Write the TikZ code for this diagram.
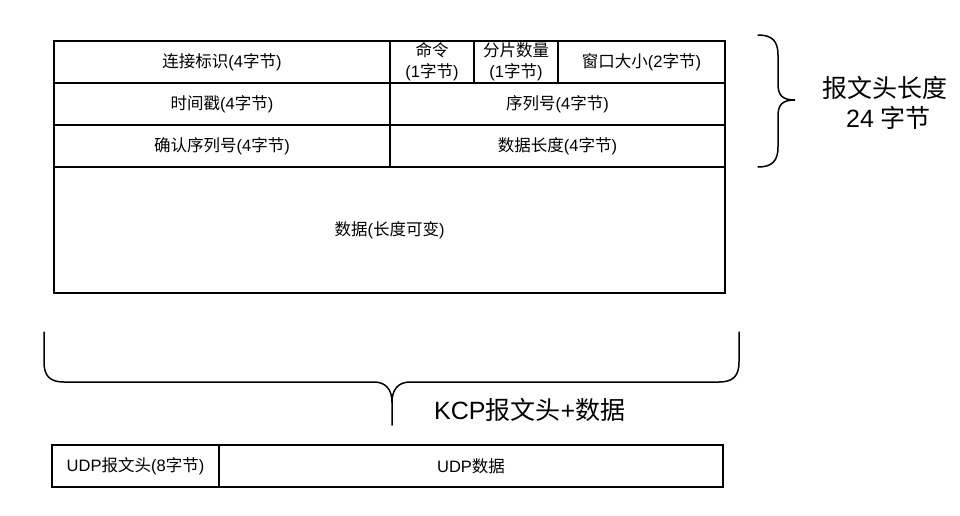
\documentclass[tikz,border=0pt]{standalone}
\usepackage{fontspec}
\setmainfont{Liberation Sans}
\newfontfamily\cjkfont{Noto Sans CJK SC}
\newcommand\zh[1]{{\cjkfont #1}}
\begin{document}
\begin{tikzpicture}[x=1pt,y=-1pt,
  cell/.style={draw=black,line width=1.6pt,inner sep=0pt,font=\fontsize{16.5}{21}\selectfont,align=center},
  bigtxt/.style={inner sep=0pt,font=\fontsize{25}{30}\selectfont,align=center},
  brace/.style={draw=black,line width=1.5pt,line cap=round}]
\useasboundingbox (0,0) rectangle (960,515);
% row 1
\node[cell,minimum width=336pt,minimum height=42pt] (c1) at (222,62) {\zh{连接标识}(4\zh{字节})};
\node[cell,minimum width=84pt,minimum height=42pt] (c2) at (432,62) {\zh{命令}\\(1\zh{字节})};
\node[cell,minimum width=84pt,minimum height=42pt] (c3) at (516,62) {\zh{分片数量}\\(1\zh{字节})};
\node[cell,minimum width=167pt,minimum height=42pt] (c4) at (641.5,62) {\zh{窗口大小}(2\zh{字节})};
% row 2
\node[cell,minimum width=336pt,minimum height=42pt] (t1) at (222,104) {\zh{时间戳}(4\zh{字节})};
\node[cell,minimum width=335pt,minimum height=42pt] (t2) at (557.5,104) {\zh{序列号}(4\zh{字节})};
% row 3
\node[cell,minimum width=336pt,minimum height=42pt] (a1) at (222,146) {\zh{确认序列号}(4\zh{字节})};
\node[cell,minimum width=335pt,minimum height=42pt] (a2) at (557.5,146) {\zh{数据长度}(4\zh{字节})};
% row 4
\node[cell,minimum width=671pt,minimum height=126pt] (d) at (389.5,230) {\zh{数据}(\zh{长度可变})};
% UDP
\node[cell,minimum width=167pt,minimum height=42pt] (u1) at (135.5,466) {UDP\zh{报文头}(8\zh{字节})};
\node[cell,minimum width=504pt,minimum height=42pt] (u2) at (471,466) {UDP\zh{数据}};
% right brace
\coordinate (rb1) at (758,35);
\coordinate (rbt) at (795,100);
\coordinate (rb2) at (758,167);
\draw[brace] (rb1) .. controls (772,35) and (778,41) .. (778,55) -- (778,84)
  .. controls (778,95) and (782,100) .. (rbt)
  .. controls (782,100) and (778,105) .. (778,116) -- (778,147)
  .. controls (778,161) and (772,167) .. (rb2);
\node[bigtxt] (hl) at (885,103) {\zh{报文头长度}\\\ 24 \zh{字节}};
% bottom brace
\coordinate (bb1) at (44,332);
\coordinate (bbt) at (392,425);
\coordinate (bb2) at (739,332);
\draw[brace] (bb1) -- (44,362) .. controls (44,376) and (50,382) .. (64,382) -- (374,382)
  .. controls (386,382) and (392,390) .. (392,402) -- (bbt);
\draw[brace] (392,402) .. controls (392,390) and (398,382) .. (410,382) -- (719,382)
  .. controls (733,382) and (739,376) .. (739,362) -- (bb2);
\node[bigtxt,anchor=west] (kcp) at (434,410) {KCP\zh{报文头}+\zh{数据}};
\end{tikzpicture}
\end{document}
